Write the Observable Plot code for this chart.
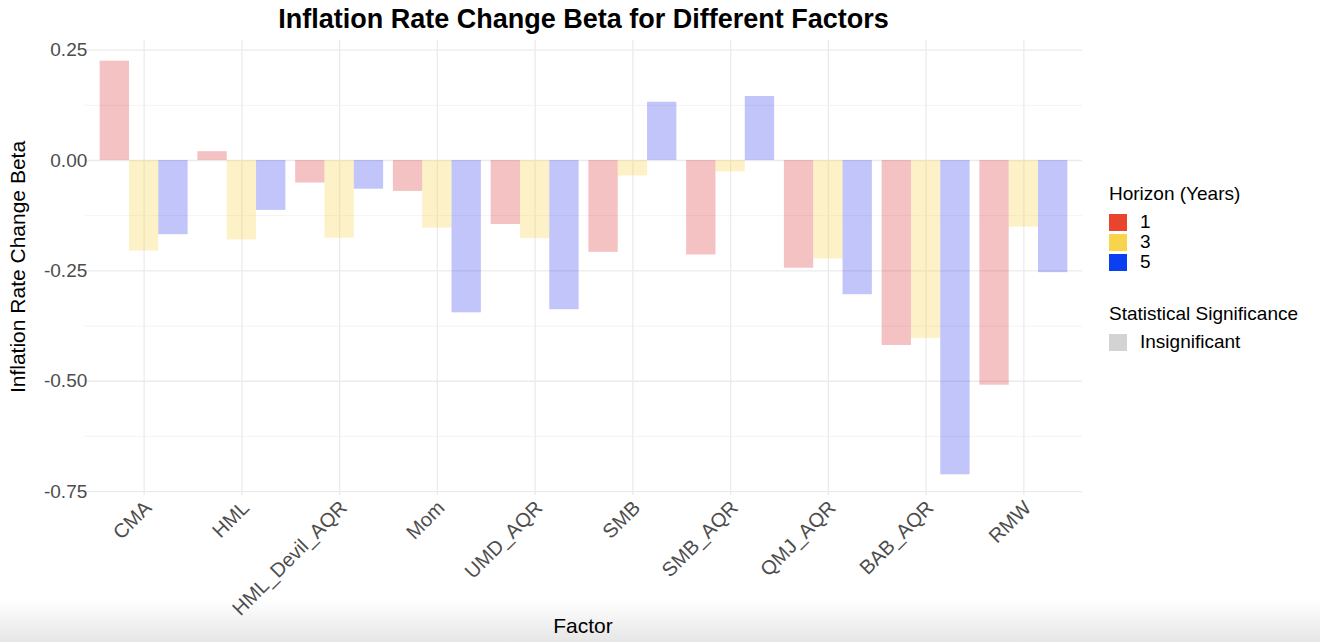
<!DOCTYPE html>
<html>
<head>
<meta charset="utf-8">
<script src="https://cdn.jsdelivr.net/npm/d3@7"></script>
<script src="https://cdn.jsdelivr.net/npm/@observablehq/plot@0.6"></script>
<style>
  html, body { margin: 0; padding: 0; }
  body {
    width: 1320px; height: 642px; overflow: hidden;
    font-family: "Liberation Sans", Arial, Helvetica, sans-serif;
    background: linear-gradient(to bottom, #ffffff 0px, #ffffff 600px, #e6e6e6 642px);
  }
  #wrap { position: relative; width: 1320px; height: 642px; }
  #title {
    position: absolute; left: 85px; width: 997px; top: 4px;
    text-align: center; font-weight: bold; font-size: 27px; color: #000; line-height: 30px;
  }
  .layer { position: absolute; left: 0; top: 36px; }
  #ylab {
    position: absolute; left: 18px; top: 267px;
    transform: translate(-50%, -50%) rotate(-90deg);
    white-space: nowrap; font-size: 21px; color: #000;
  }
  #xlab {
    position: absolute; left: 583px; top: 614px; transform: translateX(-50%);
    font-size: 21px; color: #000;
  }
  #legend { position: absolute; left: 1109px; top: 182px; font-size: 19px; color: #000; }
  .lg-title { height: 24px; line-height: 24px; margin-bottom: 6px; white-space: nowrap; }
  .lg-row { display: flex; align-items: center; height: 20px; }
  .lg-sw { width: 18px; height: 17px; margin-right: 13px; }
  .lg-gap { height: 30px; }
</style>
</head>
<body>
<div id="wrap">
  <div id="title">Inflation Rate Change Beta for Different Factors</div>
  <div id="grid" class="layer"></div>
  <div id="chart" class="layer"></div>
  <div id="ylab">Inflation Rate Change Beta</div>
  <div id="xlab">Factor</div>
  <div id="legend"></div>
</div>
<script>
// Factors, in display order
const factors = ["CMA", "HML", "HML_Devil_AQR", "Mom", "UMD_AQR", "SMB", "SMB_AQR", "QMJ_AQR", "BAB_AQR", "RMW"];
// Horizons (years)
const horizons = ["1", "3", "5"];
// Inflation rate change beta per factor, one list per horizon
const beta1 = [0.225, 0.020, -0.051, -0.070, -0.145, -0.208, -0.214, -0.244, -0.419, -0.509];
const beta3 = [-0.205, -0.180, -0.176, -0.153, -0.177, -0.035, -0.026, -0.223, -0.403, -0.151];
const beta5 = [-0.168, -0.113, -0.065, -0.345, -0.338, 0.132, 0.145, -0.304, -0.712, -0.254];
// Significance of each estimate (none reach significance)
const significance = ["Insignificant"];
// Y axis ticks
const yTicks = [-0.75, -0.5, -0.25, 0, 0.25];
const yMinorTicks = [-0.625, -0.375, -0.125, 0.125];

// Key colours for the legend, and the tints used for the faded (insignificant) bars
const horizonColors = ["#e8442e", "#f8d34c", "#0a40f2"];
const barColors = ["#da3636", "#f8cf44", "#3340ea"];
const insignificantColor = "#d3d3d3";
const fadedOpacity = 0.3;

const series = {"1": beta1, "3": beta3, "5": beta5};
const rows = [];
for (const h of horizons) {
  factors.forEach((f, i) => rows.push({factor: f, horizon: h, beta: series[h][i], sig: significance[0]}));
}

// ggplot-style 5% expansion of the value range (bars include zero)
const lo = Math.min(0, d3.min(rows, d => d.beta));
const hi = Math.max(0, d3.max(rows, d => d.beta));
const pad = (hi - lo) * 0.05;
const yDomain = [lo - pad, hi + pad];

const grid = "#ebebeb";
const tickText = "#4d4d4d";
const fontFamily = '"Liberation Sans", Arial, Helvetica, sans-serif';

// Shared frame so both layers line up exactly
const frame = {width: 1090, height: 606, marginTop: 4, marginLeft: 85, marginRight: 8, marginBottom: 147};

// Background layer: horizontal grid across the whole panel
const gridLayer = Plot.plot({
  ...frame,
  style: {fontFamily, background: "transparent"},
  y: {domain: yDomain, axis: null},
  marks: [
    Plot.gridY(yMinorTicks, {stroke: "#f3f3f3", strokeOpacity: 1, strokeWidth: 1}),
    Plot.gridY(yTicks, {stroke: grid, strokeOpacity: 1, strokeWidth: 1.3})
  ]
});
document.getElementById("grid").appendChild(gridLayer);

// Grouped bars: one facet per factor, one band per horizon
const chart = Plot.plot({
  ...frame,
  style: {fontFamily, background: "transparent"},
  fx: {domain: factors, paddingInner: 0, paddingOuter: 0.1, round: false},
  x: {domain: horizons, paddingInner: 0, paddingOuter: 1 / 6, round: false, axis: null},
  y: {domain: yDomain},
  color: {domain: horizons, range: barColors},
  marks: [
    Plot.gridFx({stroke: grid, strokeOpacity: 1, strokeWidth: 1.3}),
    Plot.barY(rows, {fx: "factor", x: "horizon", y: "beta", fill: "horizon", fillOpacity: fadedOpacity}),
    Plot.axisY(yTicks, {
      tickSize: 0, tickPadding: 8, fontSize: 19, fill: tickText, label: null,
      tickFormat: d => d.toFixed(2)
    }),
    Plot.axisFx({
      anchor: "bottom", tickRotate: -45, tickSize: 0, tickPadding: 6, dx: 4, dy: 3,
      fontSize: 20, fill: tickText, label: null
    })
  ]
});
document.getElementById("chart").appendChild(chart);

// Legends
const legend = document.getElementById("legend");
let html = '<div class="lg-title">Horizon (Years)</div>';
horizons.forEach((h, i) => {
  html += `<div class="lg-row"><div class="lg-sw" style="background:${horizonColors[i]}"></div><span>${h}</span></div>`;
});
html += '<div class="lg-gap"></div><div class="lg-title">Statistical Significance</div>';
significance.forEach(s => {
  html += `<div class="lg-row"><div class="lg-sw" style="background:${insignificantColor}"></div><span>${s}</span></div>`;
});
legend.innerHTML = html;
</script>
</body>
</html>
